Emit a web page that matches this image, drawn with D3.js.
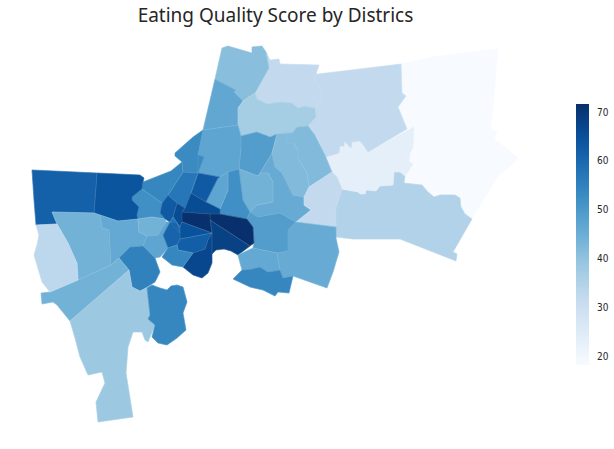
<!DOCTYPE html>
<html><head><meta charset="utf-8">
<script src="https://cdn.jsdelivr.net/npm/d3@7"></script>
<style>html,body{margin:0;padding:0;background:#fff}svg{display:block}</style>
</head><body><div id="c"></div>
<script>
const titleText = "Eating Quality Score by Districs";
const colorTicks = [20,30,40,50,60,70];
const scoreExtent = [18.2,71.6];
// district scores
const scores = [18.3,35,23,32,32,41,46.5,37,47,53,49,42,42,45.5,44,32,45.5,49,52,47,
  63,57,66,54,52,61.5,64,44,46,44,47,63,66,58,61,71.5,71.5,68,65,62,67,54,46,54,55,44,38.5,54,33];
// district outlines in map units
const outlines = [
[[401,64],[433,57],[498,49],[495,83],[492,117],[490,129],[497,132],[494,139],[518,158],[508,168],[497,177],[488,192],[472,219],[465,214],[461,207],[460,198],[455,195],[440,195],[434,197],[428,192],[422,185],[404,183],[405,176],[413,164],[409,162],[410,153],[413,147],[414,127],[407,129],[398,107],[406,96],[402,93]],
[[342,189],[358,192],[360,194],[365,194],[366,190],[376,191],[380,186],[393,185],[394,172],[400,172],[405,176],[404,183],[422,185],[428,192],[434,197],[440,195],[455,195],[460,198],[461,207],[465,214],[472,219],[453,252],[457,254],[456,261],[400,239],[353,239],[336,237],[336,207]],
[[326,157],[339,153],[340,146],[344,146],[344,141],[351,148],[352,142],[360,141],[364,146],[368,152],[414,127],[413,147],[410,153],[409,162],[413,164],[405,176],[400,172],[394,172],[393,185],[380,186],[376,191],[366,190],[365,194],[360,194],[358,192],[342,189],[337,177],[332,173],[328,164]],
[[314,74],[318,74],[401,64],[402,93],[406,96],[398,107],[407,129],[368,152],[364,146],[360,141],[352,142],[351,148],[344,141],[344,146],[340,146],[339,153],[326,157],[317,137],[308,126],[315,118],[316,117],[315,108],[322,100],[321,90],[314,80]],
[[266,52],[270,60],[279,59],[280,64],[319,65],[314,80],[321,90],[322,100],[315,108],[313,108],[305,106],[298,108],[292,103],[280,102],[267,104],[257,99],[255,93],[269,68]],
[[222,48],[228,46],[252,53],[252,47],[262,46],[266,52],[269,68],[255,93],[243,101],[234,92],[236,90],[215,79]],
[[215,79],[236,90],[234,92],[243,101],[238,108],[238,125],[203,130]],
[[238,108],[243,101],[255,93],[257,99],[267,104],[280,102],[292,103],[298,108],[305,106],[313,108],[315,108],[316,117],[315,118],[308,126],[297,127],[292,133],[277,134],[270,137],[257,132],[241,136],[238,125]],
[[203,130],[238,125],[241,136],[241,147],[239,169],[228,172],[220,177],[198,173],[198,155]],
[[203,130],[198,155],[204,157],[198,173],[183,172],[182,162],[175,156],[175,153],[193,137]],
[[241,136],[257,132],[270,137],[277,134],[272,153],[260,173],[258,176],[250,173],[239,169],[241,147]],
[[292,133],[297,127],[308,126],[315,135],[325,155],[332,172],[309,187],[307,173],[298,158],[298,150],[293,143],[287,143],[287,133]],
[[277,134],[287,133],[287,143],[293,143],[298,150],[298,158],[307,173],[309,187],[304,197],[293,195],[282,173],[275,167],[272,153]],
[[272,153],[260,173],[268,173],[273,182],[273,202],[257,205],[250,212],[258,217],[280,213],[296,222],[311,210],[304,205],[304,197],[293,195],[282,173],[275,167]],
[[239,169],[250,173],[258,176],[260,173],[268,173],[273,182],[273,202],[257,205],[250,212],[243,200]],
[[304,197],[309,187],[332,172],[337,177],[342,189],[336,207],[336,227],[296,222],[311,210],[304,205]],
[[288,230],[296,222],[336,227],[336,238],[339,252],[333,272],[327,288],[293,276],[283,278],[280,270],[277,253],[288,251]],
[[250,212],[258,217],[280,213],[296,222],[288,230],[288,251],[277,253],[253,248],[254,243],[253,227],[247,219]],
[[228,172],[239,169],[243,200],[250,212],[247,219],[220,214],[220,209],[228,190]],
[[220,177],[218,178],[206,202],[220,209],[228,190],[228,172]],
[[198,173],[220,177],[218,178],[206,202],[191,193]],
[[183,172],[198,173],[191,193],[185,208],[177,203],[168,195]],
[[191,193],[206,202],[220,209],[220,214],[210,214],[182,212],[185,208]],
[[143,182],[171,171],[182,162],[183,172],[168,195],[162,203],[142,189]],
[[132,197],[142,189],[162,203],[160,213],[165,219],[152,217],[138,219],[137,215],[139,207],[132,200]],
[[32,170],[97,173],[94,213],[52,212],[57,224],[36,225],[34,200]],
[[97,173],[140,175],[144,178],[143,182],[142,189],[132,197],[132,200],[139,207],[137,215],[138,219],[118,221],[100,215],[94,213]],
[[52,212],[94,213],[100,215],[102,228],[109,230],[111,265],[78,280],[77,263],[68,243],[57,224]],
[[100,215],[118,221],[138,219],[139,232],[147,236],[143,246],[130,247],[119,258],[111,265],[109,230],[102,228]],
[[138,219],[152,217],[165,219],[166,222],[158,235],[147,236],[139,232]],
[[158,235],[166,222],[170,222],[163,235],[168,248],[160,257],[155,258],[143,246],[147,236]],
[[160,213],[162,203],[168,195],[177,203],[173,217],[170,222],[165,219]],
[[177,203],[185,208],[182,212],[182,222],[180,227],[173,217]],
[[173,217],[180,227],[180,233],[170,222]],
[[170,222],[177,223],[180,233],[180,239],[177,245],[168,248],[163,235]],
[[182,212],[210,214],[212,233],[182,222]],
[[210,214],[220,214],[247,219],[253,227],[254,243],[250,246],[210,220]],
[[210,220],[250,246],[238,255],[231,251],[224,249],[216,250],[212,254],[212,233]],
[[182,222],[212,233],[180,239],[180,233],[180,227]],
[[180,239],[212,233],[208,240],[205,249],[193,253],[178,250],[177,245]],
[[212,233],[212,254],[212,263],[208,273],[202,278],[193,275],[183,267],[193,253],[205,249],[208,240]],
[[162,257],[168,248],[177,245],[178,250],[193,253],[183,267],[172,265]],
[[238,255],[253,248],[277,253],[280,270],[268,272],[260,267],[252,269],[242,270],[240,263]],
[[233,279],[242,270],[252,269],[260,267],[268,272],[280,270],[283,278],[293,276],[289,293],[278,292],[275,296],[263,290],[250,287]],
[[119,258],[130,247],[143,246],[155,258],[160,272],[155,282],[147,287],[140,291],[132,287],[129,270]],
[[41,293],[50,292],[78,280],[111,265],[119,258],[129,270],[70,321],[57,305],[53,302],[42,304]],
[[129,270],[132,287],[140,291],[147,288],[150,315],[148,319],[155,325],[153,330],[148,342],[145,340],[142,332],[133,332],[128,347],[126,373],[133,417],[98,422],[96,402],[105,383],[102,372],[88,375],[80,357],[75,338],[70,321]],
[[147,288],[152,285],[160,288],[167,290],[171,286],[177,285],[183,287],[187,302],[183,313],[186,330],[177,338],[167,345],[158,343],[152,337],[155,325],[148,319],[150,315]],
[[36,225],[57,224],[68,243],[77,263],[78,280],[50,292],[42,282],[34,255],[37,245],[39,235]]
];

const W=614,H=449;
const blues=d3.piecewise(d3.interpolateRgb,d3.schemeBlues[9]);
const color=d3.scaleSequential(blues).domain(scoreExtent);
const svg=d3.select("#c").append("svg").attr("width",W).attr("height",H);
const geo=d3.geoPath(d3.geoIdentity());
const features=outlines.map((r,i)=>({type:"Feature",properties:{score:scores[i]},
  geometry:{type:"Polygon",coordinates:[[...r,r[0]]]}}));
svg.append("g").selectAll("path").data(features).join("path")
  .attr("d",geo).attr("fill",d=>color(d.properties.score))
  .attr("stroke",d=>color(d.properties.score)).attr("stroke-width",0.6);
svg.append("g").selectAll("path").data(features).join("path")
  .attr("d",geo).attr("fill","none")
  .attr("stroke","#e3ecf6").attr("stroke-opacity",0.2).attr("stroke-width",0.4);
svg.append("text").attr("x",275.5).attr("y",22).attr("text-anchor","middle")
  .attr("font-family","'Noto Sans',sans-serif").attr("font-size",19).attr("fill","#262626").text(titleText);
// colour bar
const cbY=d3.scaleLinear().domain(scoreExtent).range([365,104]);
const defs=svg.append("defs");
const g=defs.append("linearGradient").attr("id","cb").attr("x1",0).attr("x2",0).attr("y1",1).attr("y2",0);
d3.range(0,1.0001,0.05).forEach(t=>g.append("stop").attr("offset",t).attr("stop-color",blues(t)));
svg.append("rect").attr("x",576).attr("y",cbY(scoreExtent[1])).attr("width",13).attr("height",cbY(scoreExtent[0])-cbY(scoreExtent[1])).attr("fill","url(#cb)");
const ax=svg.append("g").attr("transform","translate(589,0)")
  .call(d3.axisRight(cbY).tickValues(colorTicks).tickSize(0).tickPadding(8));
ax.select(".domain").remove();
ax.selectAll("text").attr("font-family","'DejaVu Sans Condensed','DejaVu Sans',sans-serif").attr("font-size",10).attr("fill","#262626");
</script></body></html>
